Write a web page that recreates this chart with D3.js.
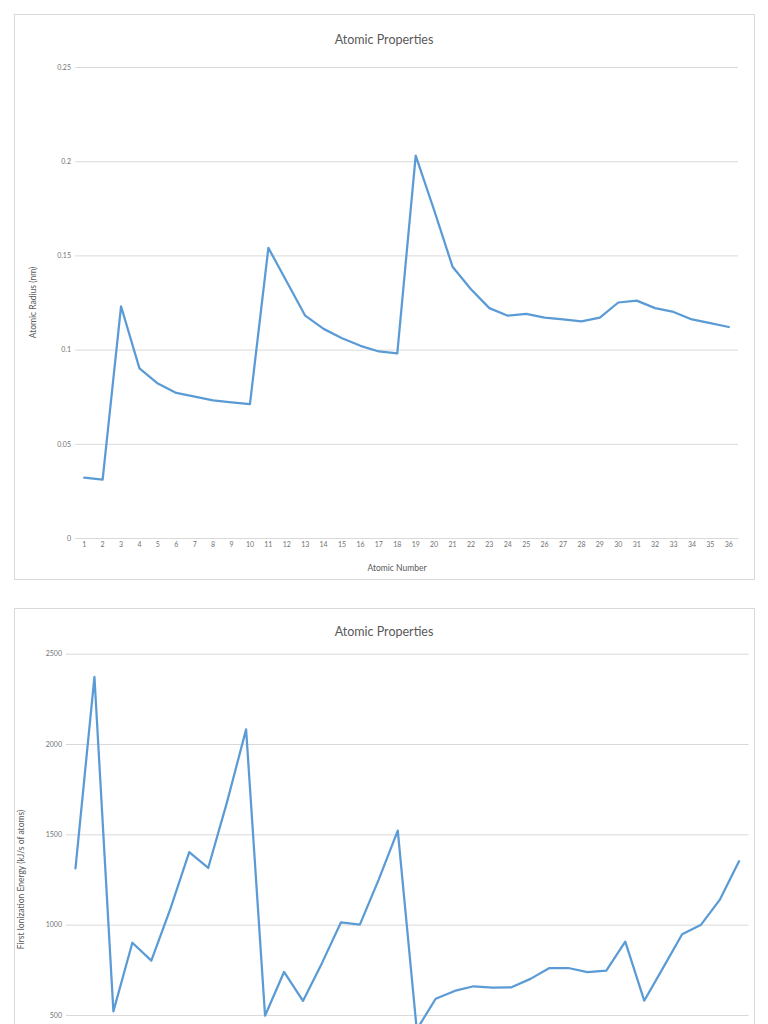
<!DOCTYPE html>
<html>
<head>
<meta charset="utf-8">
<script src="https://cdn.jsdelivr.net/npm/d3@7"></script>
<style>
  body { margin: 0; background: #fff; }
  text { font-family: Lato, "Open Sans", sans-serif; }
</style>
</head>
<body>
<script>
const atomicNumbers = [1,2,3,4,5,6,7,8,9,10,11,12,13,14,15,16,17,18,19,20,21,22,23,24,25,26,27,28,29,30,31,32,33,34,35,36]

const atomicRadius = [0.032,0.031,0.123,0.090,0.082,0.077,0.075,0.073,0.072,0.071,
  0.154,0.136,0.118,0.111,0.106,0.102,0.099,0.098,0.203,0.174,
  0.144,0.132,0.122,0.118,0.119,0.117,0.116,0.115,0.117,0.125,
  0.126,0.122,0.120,0.116,0.114,0.112]

const ionizationEnergy = [1312,2372,520,900,801,1086,1402,1314,1681,2081,
  496,738,578,787,1012,1000,1251,1521,419,590,
  633,659,651,653,700,760,760,737,745,906,
  579,762,947,1000,1140,1351]

const radiusTicks = [0,0.05,0.1,0.15,0.2,0.25]
const energyTicks = [0,500,1000,1500,2000,2500]

const width = 768
const height = 1024

const svg = d3.select("body").append("svg")
  .attr("width", width).attr("height", height)

const drawChart = (c) => {
  const g = svg.append("g")

  // chart frame
  g.append("rect")
    .attr("x", c.box.x + 0.5).attr("y", c.box.y + 0.5)
    .attr("width", c.box.w).attr("height", c.box.h)
    .style("fill", "#fff").style("stroke", "#d9d9d9")

  g.append("text").text("Atomic Properties")
    .attr("x", c.titleX).attr("y", c.titleY)
    .attr("text-anchor", "middle")
    .style("font-size", "12.5px").style("fill", "#595959")

  const x = d3.scaleBand().domain(atomicNumbers).range([c.left, c.right])
  const y = d3.scaleLinear().domain([0, c.ticks[c.ticks.length - 1]]).range([c.bottom, c.top])

  const yAxis = g.append("g").attr("transform", `translate(${c.left},0)`)
    .call(d3.axisLeft(y).tickValues(c.ticks).tickSize(-(c.right - c.left)).tickPadding(c.yPad).tickFormat(d => String(d)))
  yAxis.select(".domain").remove()
  yAxis.selectAll("line").style("stroke", "#d9d9d9")
  yAxis.selectAll("text").style("font-size", "7px").style("fill", "#737373").attr("font-family", null)

  const xAxis = g.append("g").attr("transform", `translate(0,${c.bottom})`)
    .call(d3.axisBottom(x).tickSize(0).tickPadding(4.5))
  xAxis.select(".domain").style("stroke", "#d9d9d9")
  xAxis.selectAll("text").style("font-size", "7px").style("fill", "#737373").attr("font-family", null)

  const line = d3.line()
    .x((d, i) => x(atomicNumbers[i]) + x.bandwidth() / 2)
    .y(d => y(d))

  g.append("path").attr("d", line(c.values))
    .style("fill", "none")
    .style("stroke", "#5b9bd5")
    .style("stroke-width", 2.25)
    .style("stroke-linejoin", "round")
    .style("stroke-linecap", "round")

  g.append("text").text(c.yTitle)
    .attr("transform", `translate(${c.yTitleX},${(c.top + c.bottom) / 2}) rotate(-90)`)
    .attr("text-anchor", "middle")
    .style("font-size", "8.5px").style("fill", "#595959")

  g.append("text").text("Atomic Number")
    .attr("x", c.xTitleX).attr("y", c.bottom + 33)
    .attr("text-anchor", "middle")
    .style("font-size", "8.5px").style("fill", "#595959")
}

drawChart({
  box: { x: 14, y: 14, w: 740, h: 565 },
  titleX: 384, titleY: 44,
  left: 75, right: 738, top: 67, bottom: 538,
  ticks: radiusTicks, values: atomicRadius, yPad: 4,
  yTitle: "Atomic Radius (nm)", yTitleX: 36, xTitleX: 397
})

drawChart({
  box: { x: 14, y: 608, w: 740, h: 565 },
  titleX: 384, titleY: 636,
  left: 66, right: 748.5, top: 653.7, bottom: 1105.3,
  ticks: energyTicks, values: ionizationEnergy, yPad: 4,
  yTitle: "First Ionization Energy (kJ/s of atoms)", yTitleX: 24, xTitleX: 407
})
</script>
</body>
</html>
